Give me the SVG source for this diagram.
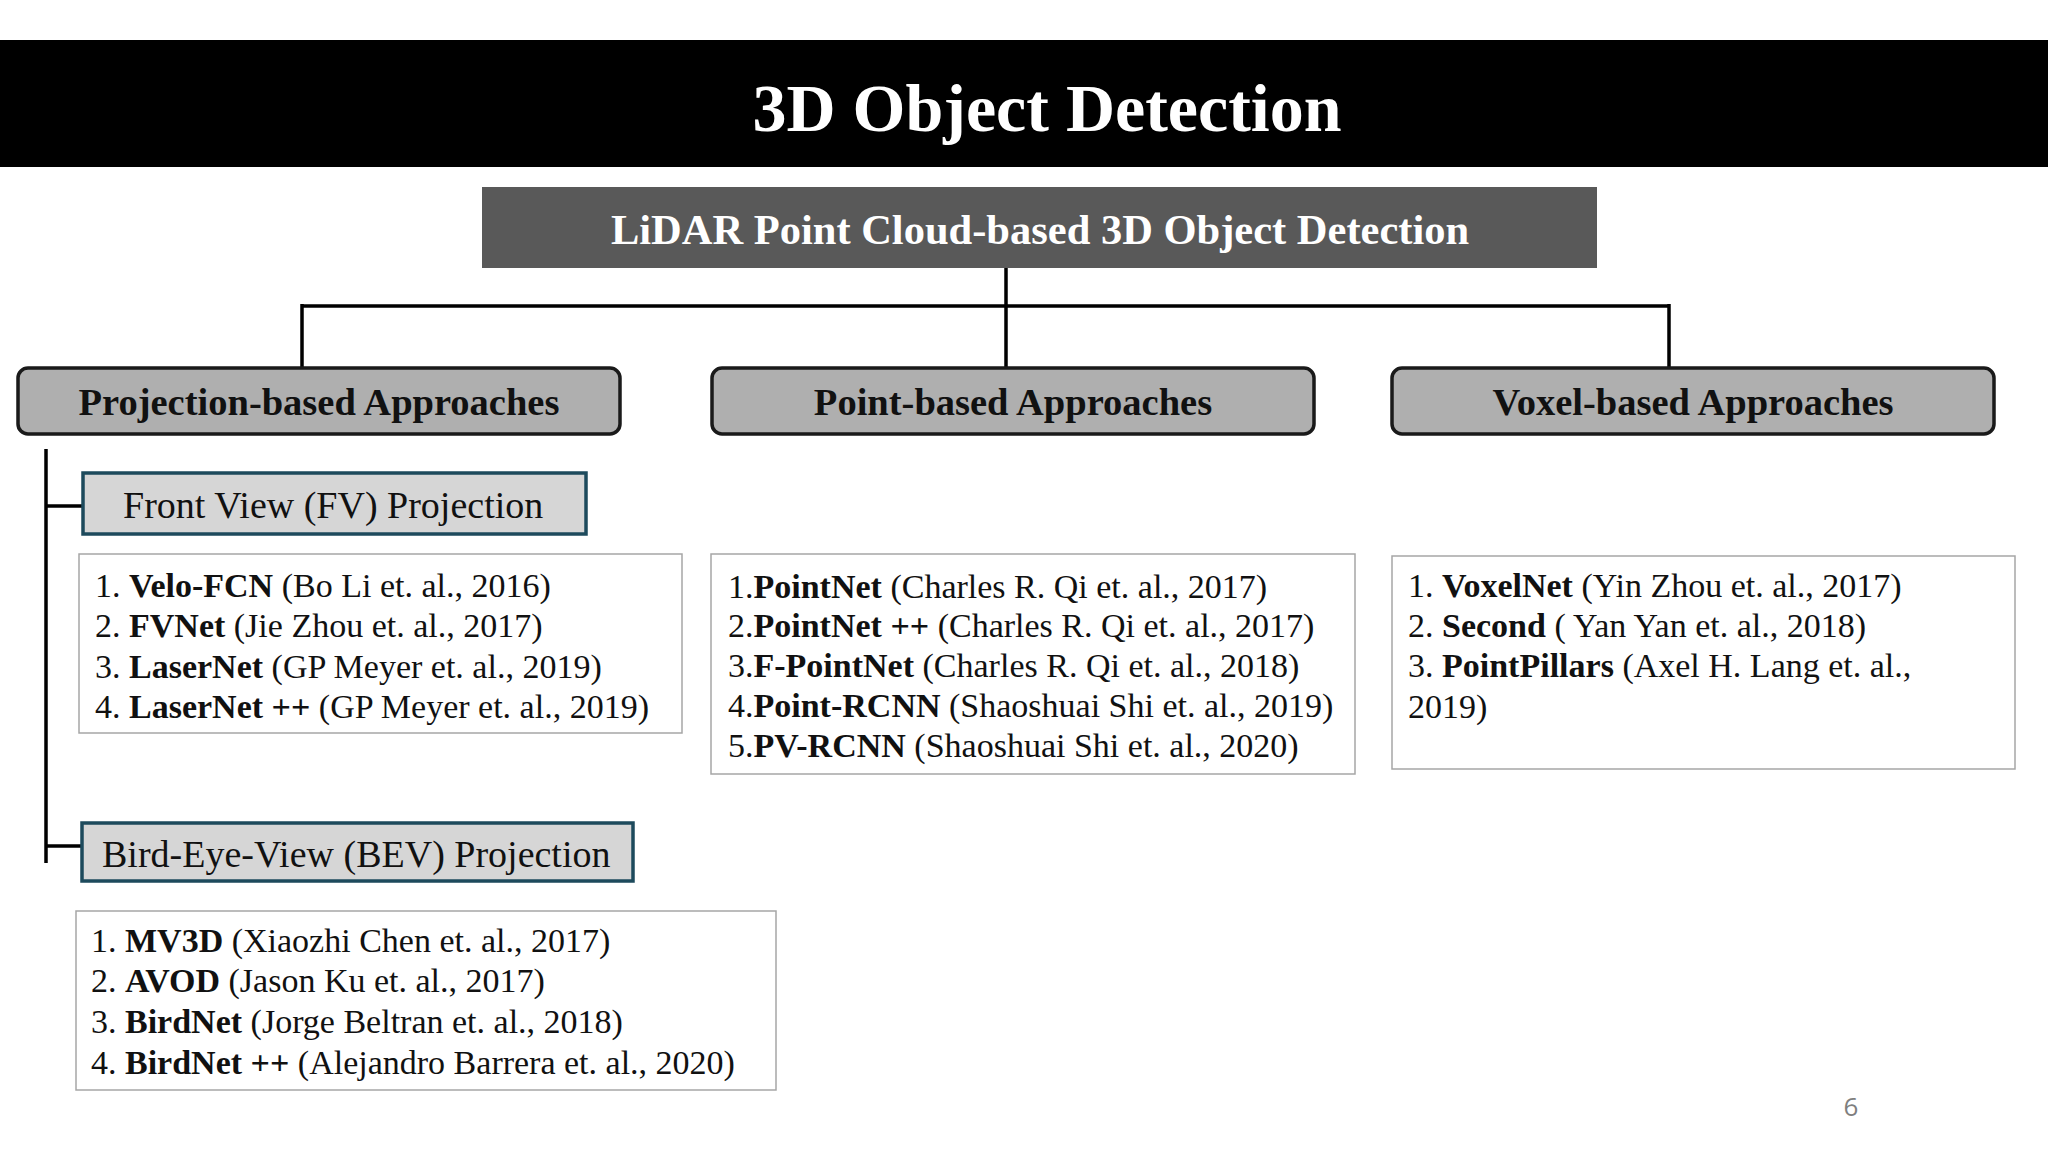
<svg xmlns="http://www.w3.org/2000/svg" width="2048" height="1152" viewBox="0 0 2048 1152">
<style>
.serif{font-family:"Liberation Serif","Times New Roman",serif}
.b{font-weight:bold}
.appr{fill:#afafaf;stroke:#1a1a1a;stroke-width:3.5}
.apprt{font-family:"Liberation Serif","Times New Roman",serif;font-weight:bold;font-size:38.5px;fill:#111;text-anchor:middle}
.sub{fill:#d6d6d6;stroke:#1d4a5c;stroke-width:3.5}
.subt{font-family:"Liberation Serif","Times New Roman",serif;font-size:38px;fill:#111}
.list{fill:#fff;stroke:#a6a6a6;stroke-width:1.5}
.lt{font-family:"Liberation Serif","Times New Roman",serif;font-size:34px;fill:#111}
.conn{stroke:#000;stroke-width:3.5;fill:none}
</style>
<rect width="2048" height="1152" fill="#fff"/>
<g id="title">
<rect x="0" y="40" width="2048" height="127" fill="#000"/>
<text x="1047" y="131" class="serif b" font-size="68" fill="#fff" text-anchor="middle">3D Object Detection</text>
</g>
<g id="connectors">
<path class="conn" d="M1006 268 V306 M302 306 H1669 M302 304 V368 M1006 306 V368 M1669 304 V368"/>
<path class="conn" d="M46 449 V863 M46 506 H83 M46 846 H82"/>
</g>
<g id="root">
<rect x="482" y="187" width="1115" height="81" fill="#595959"/>
<text x="1040" y="244" class="serif b" font-size="42.5" fill="#fff" text-anchor="middle">LiDAR Point Cloud-based 3D Object Detection</text>
</g>
<g id="projection">
<rect class="appr" x="18" y="368" width="602" height="66" rx="10"/>
<text class="apprt" x="319" y="415">Projection-based Approaches</text>
</g>
<g id="point">
<rect class="appr" x="712" y="368" width="602" height="66" rx="10"/>
<text class="apprt" x="1013" y="415">Point-based Approaches</text>
</g>
<g id="voxel">
<rect class="appr" x="1392" y="368" width="602" height="66" rx="10"/>
<text class="apprt" x="1693" y="415">Voxel-based Approaches</text>
</g>
<g id="fv">
<rect class="sub" x="83" y="473" width="503" height="61"/>
<text class="subt" x="123" y="518">Front View (FV) Projection</text>
</g>
<g id="fv-list">
<rect class="list" x="79" y="554" width="603" height="179"/>
<text class="lt" x="95" y="597">1. <tspan class="b">Velo-FCN</tspan> (Bo Li et. al., 2016)</text>
<text class="lt" x="95" y="637">2. <tspan class="b">FVNet</tspan> (Jie Zhou et. al., 2017)</text>
<text class="lt" x="95" y="678">3. <tspan class="b">LaserNet</tspan> (GP Meyer et. al., 2019)</text>
<text class="lt" x="95" y="718">4. <tspan class="b">LaserNet ++</tspan> (GP Meyer et. al., 2019)</text>
</g>
<g id="point-list">
<rect class="list" x="711" y="554" width="644" height="220"/>
<text class="lt" x="728" y="598">1.<tspan class="b">PointNet</tspan> (Charles R. Qi et. al., 2017)</text>
<text class="lt" x="728" y="637">2.<tspan class="b">PointNet ++</tspan> (Charles R. Qi et. al., 2017)</text>
<text class="lt" x="728" y="677">3.<tspan class="b">F-PointNet</tspan> (Charles R. Qi et. al., 2018)</text>
<text class="lt" x="728" y="717">4.<tspan class="b">Point-RCNN</tspan> (Shaoshuai Shi et. al., 2019)</text>
<text class="lt" x="728" y="757">5.<tspan class="b">PV-RCNN</tspan> (Shaoshuai Shi et. al., 2020)</text>
</g>
<g id="voxel-list">
<rect class="list" x="1392" y="556" width="623" height="213"/>
<text class="lt" x="1408" y="597">1. <tspan class="b">VoxelNet</tspan> (Yin Zhou et. al., 2017)</text>
<text class="lt" x="1408" y="637">2. <tspan class="b">Second</tspan> ( Yan Yan et. al., 2018)</text>
<text class="lt" x="1408" y="677">3. <tspan class="b">PointPillars</tspan> (Axel H. Lang et. al.,</text>
<text class="lt" x="1408" y="718">2019)</text>
</g>
<g id="bev">
<rect class="sub" x="82" y="823" width="551" height="58"/>
<text class="subt" x="102" y="867">Bird-Eye-View (BEV) Projection</text>
</g>
<g id="bev-list">
<rect class="list" x="76" y="911" width="700" height="179"/>
<text class="lt" x="91" y="952">1. <tspan class="b">MV3D</tspan> (Xiaozhi Chen et. al., 2017)</text>
<text class="lt" x="91" y="992">2. <tspan class="b">AVOD</tspan> (Jason Ku et. al., 2017)</text>
<text class="lt" x="91" y="1033">3. <tspan class="b">BirdNet</tspan> (Jorge Beltran et. al., 2018)</text>
<text class="lt" x="91" y="1074">4. <tspan class="b">BirdNet ++</tspan> (Alejandro Barrera et. al., 2020)</text>
</g>
<text x="1851" y="1116" font-family="'Open Sans','Liberation Sans',sans-serif" font-size="26" fill="#7f7f7f" text-anchor="middle">6</text>
</svg>
